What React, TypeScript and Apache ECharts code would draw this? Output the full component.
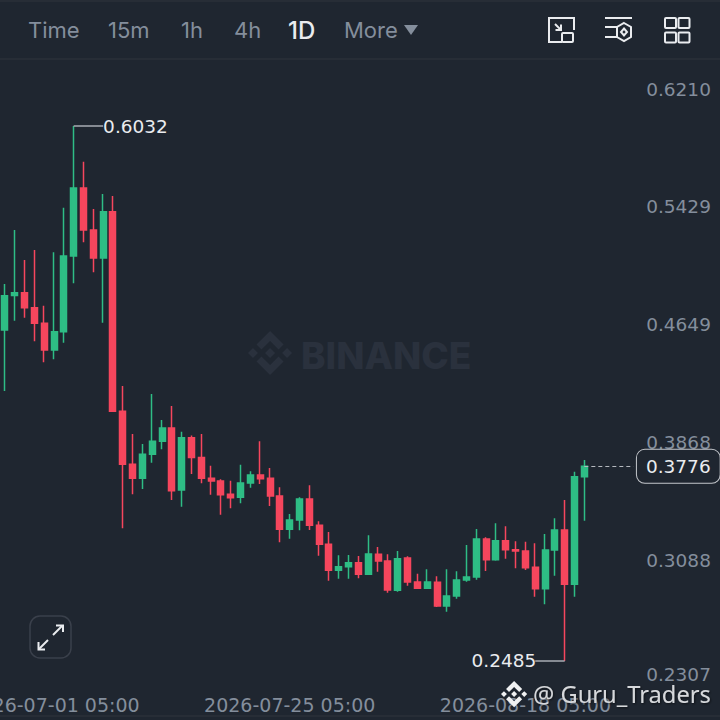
import React, { useEffect, useRef } from "react";
import * as echarts from "echarts";

// [open, close, low, high]
const candles: number[][] = [
  [0.468, 0.4907, 0.4275, 0.4984],
  [0.4908, 0.4927, 0.4741, 0.5343],
  [0.4927, 0.4827, 0.4761, 0.5144],
  [0.4827, 0.4724, 0.4605, 0.521],
  [0.4724, 0.4547, 0.4465, 0.4841],
  [0.4547, 0.4668, 0.4485, 0.5195],
  [0.4668, 0.517, 0.4595, 0.549],
  [0.517, 0.5621, 0.4989, 0.6032],
  [0.5621, 0.5343, 0.5261, 0.5795],
  [0.5343, 0.5157, 0.5062, 0.5482],
  [0.5157, 0.5464, 0.4728, 0.5581],
  [0.5464, 0.414, 0.414, 0.5568],
  [0.414, 0.3789, 0.3365, 0.4308],
  [0.3789, 0.3696, 0.359, 0.399],
  [0.3696, 0.3855, 0.3625, 0.3924],
  [0.3855, 0.3942, 0.38, 0.4255],
  [0.3942, 0.403, 0.3889, 0.4083],
  [0.403, 0.3614, 0.3552, 0.4176],
  [0.3619, 0.3965, 0.3508, 0.4005],
  [0.3965, 0.3835, 0.3725, 0.398],
  [0.3835, 0.3696, 0.3663, 0.399],
  [0.3696, 0.3678, 0.3588, 0.378],
  [0.3678, 0.3588, 0.3455, 0.369],
  [0.359, 0.3568, 0.3497, 0.368],
  [0.357, 0.3665, 0.3531, 0.3786],
  [0.3665, 0.3718, 0.3634, 0.3743],
  [0.3718, 0.3694, 0.3659, 0.3942],
  [0.3696, 0.3579, 0.3513, 0.3765],
  [0.3579, 0.3358, 0.3272, 0.3637],
  [0.3358, 0.342, 0.3296, 0.346],
  [0.342, 0.3559, 0.3352, 0.357],
  [0.3559, 0.3385, 0.3354, 0.365],
  [0.3385, 0.3259, 0.3183, 0.3411],
  [0.3259, 0.3086, 0.3017, 0.334],
  [0.3086, 0.311, 0.3031, 0.3186],
  [0.311, 0.3137, 0.3031, 0.3188],
  [0.3137, 0.306, 0.3033, 0.3181],
  [0.306, 0.3194, 0.306, 0.3318],
  [0.3192, 0.3148, 0.3077, 0.3241],
  [0.3148, 0.2956, 0.2938, 0.3192],
  [0.2954, 0.3163, 0.2944, 0.3214],
  [0.3168, 0.3009, 0.2984, 0.3179],
  [0.3009, 0.2967, 0.2962, 0.3064],
  [0.2967, 0.3009, 0.2967, 0.3093],
  [0.3007, 0.285, 0.2843, 0.3047],
  [0.285, 0.2916, 0.2812, 0.3093],
  [0.2916, 0.3022, 0.2898, 0.308],
  [0.3022, 0.3042, 0.3011, 0.3254],
  [0.3042, 0.3294, 0.3024, 0.336],
  [0.3294, 0.3157, 0.3082, 0.3305],
  [0.3157, 0.3283, 0.315, 0.3398],
  [0.3283, 0.3223, 0.3163, 0.3378],
  [0.3223, 0.3214, 0.31, 0.3279],
  [0.3214, 0.3104, 0.3088, 0.3276],
  [0.3107, 0.2964, 0.2911, 0.3265],
  [0.2964, 0.3221, 0.2861, 0.3327],
  [0.3221, 0.3354, 0.3051, 0.3431],
  [0.3354, 0.2993, 0.2485, 0.3552],
  [0.2993, 0.3707, 0.2911, 0.374],
  [0.3707, 0.3776, 0.3415, 0.3818],
];

const priceTicks = [0.621, 0.5429, 0.4649, 0.3868, 0.3088, 0.2307];
const highPrice = 0.6032;
const lowPrice = 0.2485;
const lastPrice = 0.3776;
const timeTabs = ["Time", "15m", "1h", "4h", "1D", "More"];
const tabX = [28, 108, 181, 234, 288, 344];

const BG = "#1f2630";
const GRAY = "#848e9c";
const WHITE = "#eaecef";
const UP = "#2ebd85";
const DOWN = "#f6465d";
const FONT = "Inter";
const NUM_FONT = "DejaVu Sans";
const NUM_SIZE = 18.5;

const LOGO_D =
  "M38.73 53.2l24.59-24.58 24.6 24.6 14.3-14.31L63.32 0 24.43 38.89zM0 63.31l14.3-14.31 14.31 14.31-14.31 14.3zM38.73 73.41l24.59 24.59 24.6-24.59 14.31 14.29-38.9 38.91-38.9-38.88v-.02zM98 63.31l14.3-14.31 14.31 14.3-14.31 14.32zM77.83 63.3L63.32 48.78 52.59 59.51l-1.24 1.23-2.54 2.54 14.51 14.5 14.5-14.47z";

echarts.graphic.registerShape("logo", echarts.graphic.extendPath(LOGO_D, {}));

const categories: string[] = [];
for (let i = 0; i < 73; i++) {
  const d = new Date(Date.UTC(2026, 5, 26 + i));
  categories.push(`${d.toISOString().slice(0, 10)} 05:00`);
}

const iconLine = { stroke: WHITE, lineWidth: 2, fill: "none" };

function poly(points: number[][], style: any = iconLine) {
  return { type: "polyline", shape: { points }, style };
}
function box(x: number, y: number, width: number, height: number, r = 1) {
  return { type: "rect", shape: { x, y, width, height, r }, style: iconLine };
}
function hline(y: number) {
  return {
    type: "line",
    shape: { x1: 0, y1: y, x2: 720, y2: y },
    style: { stroke: "#2b3139", lineWidth: 1.5 },
  };
}

const graphics: any[] = [
  hline(1),
  hline(59),
  hline(716),
  { type: "logo", x: 248, y: 331, scaleX: 0.348, scaleY: 0.348, style: { fill: "#2a313d" }, z: 0 },
  {
    type: "text",
    x: 301,
    y: 355,
    z: 0,
    style: {
      text: "BINANCE",
      fill: "#2a313d",
      font: `800 37px ${FONT}`,
      verticalAlign: "middle",
    },
  },
  ...timeTabs.map((t, i) => ({
    type: "text",
    x: tabX[i],
    y: 30,
    style: {
      text: t,
      fill: t === "1D" ? WHITE : GRAY,
      font: `${t === "1D" ? 500 : 400} ${t === "1D" ? 24 : 22}px ${FONT}`,
      verticalAlign: "middle",
    },
  })),
  { type: "polygon", shape: { points: [[404, 25], [418, 25], [411, 35]] }, style: { fill: GRAY } },
  poly([[562, 42], [549, 42], [549, 18], [574, 18], [574, 30]]),
  box(562, 33, 11, 9),
  poly([[555, 24], [561, 30]]),
  poly([[561, 24.5], [561, 30], [555.5, 30]]),
  poly([[605, 18], [632, 18]]),
  poly([[605, 27], [617, 27]]),
  poly([[605, 37], [617, 37]]),
  { type: "polygon", shape: { points: [[624, 23], [631, 27], [631, 37], [624, 41], [617, 37], [617, 27]] }, style: iconLine },
  { type: "polygon", shape: { points: [[624, 28.5], [627, 32], [624, 35.5], [621, 32]] }, style: iconLine },
  box(665, 18, 11, 10),
  box(678.5, 18, 11, 10),
  box(665, 32.5, 11, 10),
  box(678.5, 32.5, 11, 10),
  { type: "rect", shape: { x: 30, y: 616, width: 41, height: 42, r: 10 }, style: { stroke: "#3a404b", lineWidth: 1.5, fill: "none" } },
  poly([[53, 635], [62, 626]]),
  poly([[56, 625.5], [63, 625.5], [63, 632]]),
  poly([[48, 640], [39, 649]]),
  poly([[38.5, 642], [38.5, 649.5], [45, 649.5]]),
  { type: "logo", x: 501, y: 681, scaleX: 0.207, scaleY: 0.207, z: 100, style: { fill: "#f0f1f2" } },
  {
    type: "text",
    x: 533,
    y: 694,
    z: 100,
    style: {
      text: "@ Guru_Traders",
      fill: "#d6d8db",
      font: `400 23.7px "Noto Sans"`,
      verticalAlign: "middle",
      textShadowColor: "rgba(0,0,0,0.55)",
      textShadowBlur: 2,
      textShadowOffsetX: 1,
      textShadowOffsetY: 1,
    },
  },
];

export default function App() {
  const ref = useRef<HTMLDivElement>(null);

  useEffect(() => {
    document.body.style.margin = "0";
    const chart = echarts.init(ref.current!, null, { renderer: "svg" });
    const markLabel = {
      show: true,
      position: "end",
      distance: 0,
      color: WHITE,
      fontFamily: NUM_FONT,
      fontSize: NUM_SIZE,
    };
    chart.setOption({
      animation: false,
      backgroundColor: BG,
      textStyle: { fontFamily: NUM_FONT },
      graphic: { elements: graphics },
      grid: { left: 0, right: 3.1, top: 60, bottom: 30, containLabel: false, outerBoundsMode: "none" },
      xAxis: {
        type: "category",
        data: categories,
        boundaryGap: true,
        axisLine: { show: false },
        axisTick: { show: false },
        splitLine: { show: false },
        axisLabel: {
          color: GRAY,
          fontSize: 19,
          fontFamily: NUM_FONT,
          margin: 5,
          interval: (i: number) => (i - 5) % 24 === 0,
        },
      },
      yAxis: {
        type: "value",
        position: "right",
        min: 0.22927,
        max: 0.64696,
        axisLine: { show: false },
        axisTick: { show: false },
        splitLine: { show: false },
        axisLabel: {
          inside: true,
          margin: 6,
          color: GRAY,
          fontSize: NUM_SIZE,
          fontFamily: NUM_FONT,
          verticalAlign: "bottom",
          lineHeight: 20,
          customValues: priceTicks,
          showMinLabel: true,
          showMaxLabel: true,
          formatter: (v: number) =>
            v < 0.24 ? `{last|${v.toFixed(4)}}` : v.toFixed(4),
          rich: {
            last: { color: GRAY, fontSize: NUM_SIZE, fontFamily: NUM_FONT, padding: [0, 0, 6, 0] },
          },
        },
      },
      series: [
        {
          type: "candlestick",
          data: candles,
          barWidth: 6.5,
          z: 2,
          itemStyle: {
            color: UP,
            color0: DOWN,
            borderColor: UP,
            borderColor0: DOWN,
            borderWidth: 1.5,
          },
          markLine: {
            silent: true,
            animation: false,
            symbol: "none",
            precision: 4,
            data: [
              [
                {
                  coord: [7, highPrice],
                  lineStyle: { color: "#a9adb3", width: 1.5, type: "solid" },
                  label: { ...markLabel, formatter: highPrice.toFixed(4) },
                },
                { coord: [10, highPrice] },
              ],
              [
                {
                  coord: [57, lowPrice],
                  lineStyle: { color: "#a9adb3", width: 1.5, type: "solid" },
                  label: { ...markLabel, distance: -1, formatter: lowPrice.toFixed(4) },
                },
                { coord: [54, lowPrice] },
              ],
              [
                {
                  coord: [59, lastPrice],
                  lineStyle: { color: "#b5b9bf", width: 1, type: [4, 3] },
                  label: {
                    ...markLabel,
                    distance: 3.5,
                    formatter: lastPrice.toFixed(4),
                    backgroundColor: BG,
                    borderColor: "#c4c7cc",
                    borderWidth: 1,
                    borderRadius: 8,
                    padding: [7, 9, 7, 9],
                  },
                },
                { coord: [64, lastPrice] },
              ],
            ],
          },
        },
      ],
    });
    return () => chart.dispose();
  }, []);

  return <div ref={ref} style={{ width: 720, height: 720 }} />;
}
